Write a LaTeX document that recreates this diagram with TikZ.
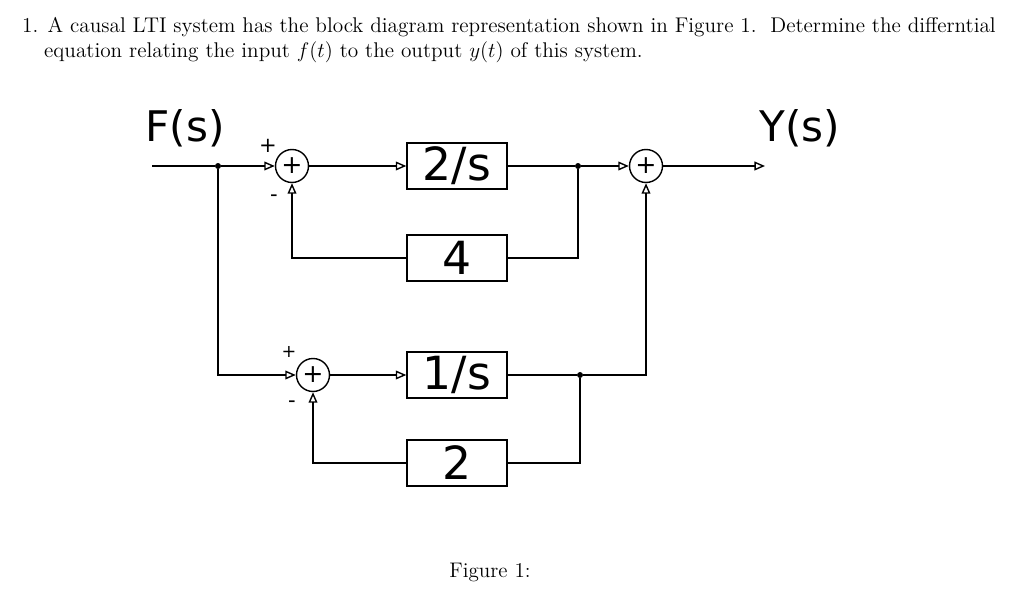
\documentclass[tikz,border=0pt]{standalone}
\usepackage{fontspec}
\setmainfont{Latin Modern Roman}
\newfontfamily\sans{DejaVu Sans}
\usetikzlibrary{arrows.meta}
\begin{document}
\begin{tikzpicture}[x=0.02cm,y=-0.02cm,
  sum/.style={circle,draw,thick,minimum size=0.66cm,inner sep=0pt,font=\sans\Large},
  blk/.style={draw,thick,minimum width=2cm,minimum height=0.92cm,inner sep=0pt,font=\sans\fontsize{26}{28}\selectfont},
  sig/.style={font=\sans\fontsize{24}{26}\selectfont},
  w/.style={thick},
  a/.style={thick,-{Triangle[open,length=6pt,width=5pt]}},
  dot/.style={circle,fill,inner sep=1.2pt}]
\useasboundingbox (0,0) rectangle (1013,591);
\node[anchor=west,font=\fontsize{12.1}{14}\selectfont] (t1) at (16,27) {1. A causal LTI system has the block diagram representation shown in Figure 1.\ \ Determine the differntial};
\node[anchor=west,font=\fontsize{12.1}{14}\selectfont] (t2) at (38,52) {equation relating the input $f(t)$ to the output $y(t)$ of this system.};
\node[sig] (F) at (185,128) {F(s)};
\node[sig] (Y) at (800,128) {Y(s)};
\coordinate (in) at (152,166);
\node[dot] (j0) at (218,166) {};
\node[sum] (s1) at (292,166) {+};
\node[sum] (s2) at (313,375) {+};
\node[sum] (s3) at (646,166) {+};
\node[blk] (b1) at (457,166) {2/s};
\node[blk] (b2) at (457,258) {4};
\node[blk] (b3) at (457,375) {1/s};
\node[blk] (b4) at (457,463) {2};
\node[dot] (j1) at (578,166) {};
\node[dot] (j2) at (580,375) {};
\coordinate (out) at (765,166);
\draw[w] (in) -- (j0);
\draw[a] (j0) -- (s1.west);
\draw[a] (j0) |- (s2.west);
\draw[a] (s1.east) -- (b1.west);
\draw[w] (b1.east) -- (j1);
\draw[a] (j1) -- (s3.west);
\draw[a] (s3.east) -- (out);
\draw[w] (j1) |- (b2.east);
\draw[a] (b2.west) -| (s1.south);
\draw[a] (s2.east) -- (b3.west);
\draw[w] (b3.east) -- (j2);
\draw[a] (j2) -| (s3.south);
\draw[w] (j2) |- (b4.east);
\draw[a] (b4.west) -| (s2.south);
\node[font=\sans\large] (p1) at (268,146) {+};
\node[font=\sans\large] (m1) at (274,198) {-};
\node[font=\sans\normalsize] (p2) at (289,352) {+};
\node[font=\sans\large] (m2) at (292,404) {-};
\node[font=\fontsize{12}{14}\selectfont] (fig) at (490,572) {Figure 1:};
\end{tikzpicture}
\end{document}
